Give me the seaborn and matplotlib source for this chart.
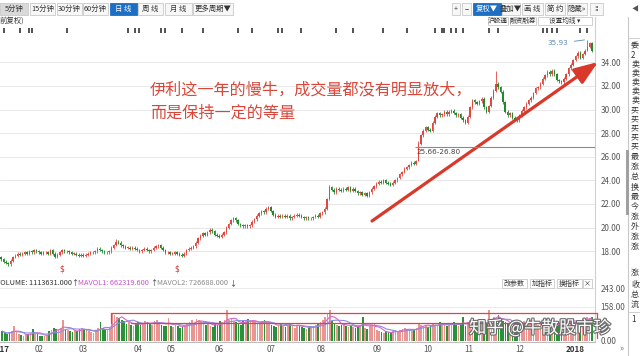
import matplotlib
matplotlib.use("Agg")
import matplotlib.pyplot as plt
import matplotlib.patheffects as pe
from matplotlib.patches import Rectangle
import numpy as np
import pandas as pd
import seaborn as sns

# ---------------- data ----------------
closes = [
    17.3, 17.1, 17.0, 16.9, 17.2, 17.5, 17.6, 17.8, 17.7, 17.8,
    17.9, 17.8, 18.0, 17.9, 18.1, 18.0, 17.9, 17.8, 17.9, 17.9,
    17.8, 18.1, 17.8, 17.5, 17.7, 17.9, 18.1, 18.0, 18.0, 17.9,
    17.8, 17.8, 17.7, 17.6, 17.7, 17.6, 17.7, 17.8, 17.9, 17.9,
    18.0, 18.2, 18.1, 18.0, 17.9, 17.9, 18.0, 18.3, 18.5, 18.8,
    18.7, 18.5, 18.4, 18.3, 18.3, 18.2, 18.3, 18.2, 18.1, 18.0,
    18.1, 18.2, 18.1, 18.0, 18.1, 18.3, 18.4, 18.5, 18.3, 18.1,
    17.9, 17.9, 17.8, 17.8, 17.9, 17.8, 17.7, 17.6, 17.8, 18.1,
    18.2, 18.3, 18.4, 18.7, 19.1, 19.3, 19.5, 19.4, 19.6, 19.8,
    19.7, 19.4, 19.3, 19.2, 19.4, 19.6, 20.0, 20.3, 20.6, 20.8,
    20.6, 20.3, 20.2, 20.1, 20.2, 20.1, 20.2, 20.5, 20.7, 21.0,
    21.2, 21.4, 21.3, 21.6, 21.7, 21.4, 21.1, 20.9, 21.0, 20.9,
    21.0, 20.9, 21.0, 20.8, 20.9, 21.0, 21.1, 21.0, 20.9, 20.8,
    20.9, 20.8, 20.8, 20.9, 21.0, 20.9, 21.2, 21.3, 21.6, 22.4,
    23.4, 23.2, 23.0, 23.3, 23.2, 23.1, 23.3, 23.2, 23.4, 23.1,
    23.3, 23.1, 22.9, 23.0, 22.8, 22.9, 22.7, 23.0, 23.3, 23.5,
    23.7, 23.9, 23.8, 24.0, 23.8, 23.7, 23.6, 23.8, 24.0, 24.2,
    24.5, 24.7, 25.0, 25.1, 25.3, 25.5, 25.4, 25.6, 27.1, 27.8,
    28.2, 28.5, 28.3, 28.2, 28.9, 29.4, 29.7, 29.5, 29.6, 29.8,
    29.6, 29.8, 29.9, 29.7, 29.5, 29.6, 29.3, 29.1, 28.9, 29.4,
    30.2, 30.8, 30.6, 30.5, 30.7, 30.9, 30.2, 29.8, 30.3, 31.0,
    31.6, 32.2, 31.9, 31.5, 30.6, 29.8, 29.5, 29.7, 29.3, 29.2,
    29.1, 29.5, 29.9, 30.2, 30.5, 30.8, 31.0, 31.4, 31.8, 31.9,
    32.2, 32.6, 32.9, 33.2, 33.0, 33.3, 33.0, 32.5, 32.4, 32.3,
    32.6, 33.0, 33.5, 33.8, 34.2, 34.5, 34.8, 34.4, 34.7, 35.0,
    35.3, 35.6, 35.0,
]
volumes = [
    45, 35, 30, 40, 45, 70, 40, 30, 28, 25,
    28, 30, 35, 55, 40, 30, 25, 22, 25, 28,
    45, 50, 60, 55, 50, 60, 95, 55, 50, 45,
    40, 50, 45, 55, 60, 55, 50, 45, 40, 38,
    50, 60, 85, 60, 55, 50, 60, 125, 120, 110,
    105, 95, 90, 80, 85, 75, 70, 80, 85, 75,
    80, 90, 85, 80, 75, 90, 95, 80, 75, 70,
    70, 105, 70, 65, 75, 70, 60, 65, 70, 80,
    85, 95, 80, 100, 95, 90, 85, 75, 80, 70,
    65, 80, 75, 90, 85, 95, 140, 95, 100, 90,
    85, 80, 75, 90, 95, 100, 95, 90, 85, 80,
    80, 90, 95, 85, 80, 75, 70, 65, 75, 80,
    70, 65, 75, 80, 70, 60, 75, 70, 65, 60,
    55, 60, 65, 70, 75, 80, 85, 95, 110, 125,
    140, 90, 80, 75, 70, 75, 80, 70, 65, 70,
    65, 60, 70, 75, 110, 60, 55, 70, 75, 80,
    50, 45, 40, 35, 45, 40, 35, 45, 50, 45,
    50, 55, 60, 55, 50, 45, 55, 60, 80, 75,
    70, 75, 65, 70, 80, 75, 70, 85, 80, 75,
    70, 75, 80, 85, 75, 70, 80, 110, 70, 85,
    95, 90, 85, 80, 75, 80, 85, 80, 140, 95,
    110, 100, 120, 95, 90, 85, 80, 75, 70, 65,
    75, 80, 85, 90, 85, 90, 95, 85, 80, 75,
    85, 90, 95, 85, 80, 75, 80, 70, 75, 80,
    85, 90, 100, 95, 90, 85, 95, 90, 100, 105,
    110, 105, 111,
]
first_open = 17.5
long_wicks = {49: (19.0, 18.4), 140: (23.6, 22.3), 178: (27.3, 25.6),
              211: (33.3, 31.5), 250: (35.93, 35.0)}
wick_ext = 0.12

month_pos = [-1.0, 15.7, 34.5, 58.0, 72.0, 92.5, 114.7, 136.4, 160.3, 181.7, 199.2, 221.3, 244.8]
month_labels = ["2017", "02", "03", "04", "05", "06", "07", "08", "09", "10", "11", "12", "2018"]
price_ticks = [18, 20, 22, 24, 26, 28, 30, 32, 34]
vol_ticks = [0, 158, 243]
event_days = [1, 8, 12, 13, 28, 54, 57, 59, 68, 70, 77, 86, 101, 107, 118, 120, 128,
              143, 150, 163, 173, 185, 188, 189, 192, 194, 197, 208, 212, 231, 233,
              235, 237, 247, 250]
dividend_days = [26, 75]
gap_low, gap_high, gap_start = 25.66, 26.80, 176.5
peak_day, peak_price = 250, 35.93
vol_now, mavol1_now, mavol2_now = 1113631.000, 662319.600, 726688.000

# ---------------- style ----------------
sns.set_theme(style="white")
plt.rcParams['font.family'] = ['Noto Sans CJK SC', 'DejaVu Sans']
plt.rcParams['axes.unicode_minus'] = False

W, H = 640, 356
fig = plt.figure(figsize=(6.4, 3.56), dpi=100)
fig.patch.set_facecolor('white')


def box(x0, y0, x1, y1):
    return [x0 / W, 1 - y1 / H, (x1 - x0) / W, (y1 - y0) / H]


def fx(x):
    return x / W


def fy(y):
    return 1 - y / H


n = len(closes)
df = pd.DataFrame({'day': np.arange(n), 'close': closes, 'volume': volumes})
df['open'] = [first_open] + closes[:-1]
df['up'] = df['close'] >= df['open']
df['top'] = df[['open', 'close']].max(axis=1)
df['bot'] = df[['open', 'close']].min(axis=1)
df['high'] = df['top'] + wick_ext
df['low'] = df['bot'] - wick_ext
for d, (h, l) in long_wicks.items():
    df.loc[d, 'high'] = h
    df.loc[d, 'low'] = l
df['mavol1'] = df['volume'].rolling(5, min_periods=1).mean()
df['mavol2'] = df['volume'].rolling(10, min_periods=1).mean()

red, green = '#e0473f', '#1f8b2c'
ccol = np.where(df['up'], red, green)
vcol = np.where(df['up'], '#e99692', '#2a9139')

ax = fig.add_axes(box(0, 17, 595, 277))
axv = fig.add_axes(box(0, 277, 595, 342))
xlim = (-0.5, 253.3)

# ---- price panel ----
for t in price_ticks:
    ax.axhline(t, color='#e8e8e8', lw=0.7, zorder=0)
ax.vlines(df['day'], df['low'], df['high'], colors=ccol, lw=0.6, zorder=2)
ax.bar(df['day'], (df['top'] - df['bot']).clip(lower=0.05), bottom=df['bot'],
       width=0.62, color=ccol, linewidth=0, zorder=3)
ax.set_xlim(*xlim)
ax.set_ylim(15.81, 37.84)
ax.yaxis.tick_right()
ax.set_yticks(price_ticks)
ax.set_yticklabels([f"{t:.2f}" for t in price_ticks])
ax.tick_params(axis='y', length=0, pad=4, labelsize=5.8, labelcolor='#555')
ax.tick_params(axis='x', bottom=False, labelbottom=False)
for s in ['top', 'left']:
    ax.spines[s].set_visible(False)
ax.spines['right'].set_color('#d0d0d0')
ax.spines['right'].set_linewidth(0.8)
ax.spines['bottom'].set_color('#c4c4c4')
ax.spines['bottom'].set_linewidth(0.8)

# event markers on top, dividend markers at bottom
ax.vlines(event_days, 0.938, 0.958, transform=ax.get_xaxis_transform(),
          color='#222', lw=1.1, zorder=4)
for d in dividend_days:
    ax.text(d, 0.03, "$", transform=ax.get_xaxis_transform(), ha='center',
            va='center', fontsize=5.5, color='#d03030', family='DejaVu Sans')

# gap line and label
ax.hlines(gap_high, gap_start, xlim[1], color='#8a8a8a', lw=0.8, zorder=4)
ax.text(gap_start + 0.5, gap_high - 0.15, f"{gap_low:.2f}-{gap_high:.2f}",
        ha='left', va='top', fontsize=5.2, color='#444', family='DejaVu Sans')

# peak label
ax.annotate(f"{peak_price:.2f}", xy=(peak_day, peak_price), xytext=(peak_day - 12.5, 35.6),
            ha='center', va='center', fontsize=5.2, color='#5b8ab5', family='DejaVu Sans',
            arrowprops=dict(arrowstyle='-', color='#5b8ab5', lw=0.6))

# ---- volume panel ----
for t in vol_ticks[1:]:
    axv.axhline(t, color='#ebebeb', lw=0.7, zorder=0)
axv.bar(df['day'], df['volume'], width=0.72, color=vcol, linewidth=0, zorder=2)
sns.lineplot(data=df, x='day', y='mavol1', ax=axv, color='#d866cc', lw=0.8, zorder=3)
sns.lineplot(data=df, x='day', y='mavol2', ax=axv, color='#8c8ce0', lw=0.8, zorder=3)
axv.set_xlim(*xlim)
axv.set_ylim(-4.6, 293.6)
axv.set_xlabel('')
axv.set_ylabel('')
axv.yaxis.tick_right()
axv.set_yticks(vol_ticks)
axv.set_yticklabels([f"{t:.2f}" for t in vol_ticks])
axv.tick_params(axis='y', length=0, pad=4, labelsize=5.8, labelcolor='#555')
axv.set_xticks(month_pos)
axv.set_xticklabels(month_labels)
axv.tick_params(axis='x', length=0, pad=2, labelsize=5.8, labelcolor='#555')
for lab in axv.get_xticklabels():
    if lab.get_text() in ("2017", "2018"):
        lab.set_fontweight('bold')
        lab.set_color('#333')
for s in ['top', 'left']:
    axv.spines[s].set_visible(False)
axv.spines['right'].set_color('#d0d0d0')
axv.spines['right'].set_linewidth(0.8)
axv.spines['bottom'].set_color('#bdbdbd')
axv.spines['bottom'].set_linewidth(0.8)

# hand-drawn red box on volume
bx0, bx1, bx2 = 46.4, 54.9, 254.2
by0, by1, by2 = 128, 83, 14
axv.plot([bx0, bx2], [by0, by0], color='#e04545', lw=0.9, clip_on=False, zorder=4)
axv.plot([bx0, bx0], [by0, by1], color='#e04545', lw=0.9, clip_on=False, zorder=4)
axv.plot([bx1, bx2], [by1, by1], color='#e04545', lw=0.9, clip_on=False, zorder=4)
axv.plot([bx2, bx2], [by0, by2], color='#e04545', lw=0.9, clip_on=False, zorder=4)

# volume header
fs_h = 5.3
fig.text(fx(-4), fy(283), f"VOLUME: {vol_now:.3f}", fontsize=fs_h, color='#333', va='center')
fig.text(fx(71), fy(283), "↑", fontsize=fs_h, color='#333', va='center')
fig.text(fx(78), fy(283), f"MAVOL1: {mavol1_now:.3f}", fontsize=fs_h, color='#c94fc9', va='center')
fig.text(fx(150), fy(283), "↑", fontsize=fs_h, color='#333', va='center')
fig.text(fx(157), fy(283), f"MAVOL2: {mavol2_now:.3f}", fontsize=fs_h, color='#8a8a8a', va='center')
fig.text(fx(229), fy(283), "↓", fontsize=fs_h, color='#333', va='center')


def button(x0, x1, y0, y1, label, fc='#f7f7f7', tc='#333', ec='#c9c9c9', fs=5.3):
    fig.patches.append(Rectangle((fx(x0), fy(y1)), (x1 - x0) / W, (y1 - y0) / H,
                                 transform=fig.transFigure, facecolor=fc, edgecolor=ec,
                                 lw=0.6, zorder=5))
    fig.text(fx((x0 + x1) / 2), fy((y0 + y1) / 2), label, ha='center', va='center',
             fontsize=fs, color=tc, zorder=6)


# volume panel buttons
for lbl, a, b in [("改参数", 502, 527), ("加指标", 530, 554), ("换指标", 557, 582), ("×", 583, 592)]:
    button(a, b, 279, 288, lbl, fc='white', fs=5.0)

# toolbar
blue = '#1d6fc4'
for lbl, a, b, sel in [("5分钟", 0, 28, 'g'), ("15分钟", 30, 55, ''), ("30分钟", 57, 82, ''),
                       ("60分钟", 83, 108, ''), ("日 线", 110, 137, 'b'), ("周 线", 138, 163, ''),
                       ("月 线", 165, 192, ''), ("更多周期▼", 193, 233, '')]:
    if sel == 'b':
        button(a, b, 3, 15, lbl, fc=blue, tc='white', ec=blue)
    elif sel == 'g':
        button(a, b, 3, 15, lbl, fc='#d9d9d9')
    else:
        button(a, b, 3, 15, lbl)
for lbl, a, b, sel in [("+", 452, 460, ''), ("−", 462, 471, ''), ("复权▼", 473, 501, 'b'),
                       ("叠加▼", 502, 520, ''), ("画 线", 522, 543, ''), ("简 约", 545, 565, ''),
                       ("隐藏»", 567, 587, ''), ("⁞⁞", 590, 603, '')]:
    if sel == 'b':
        button(a, b, 3, 15, lbl, fc=blue, tc='white', ec=blue)
    else:
        button(a, b, 3, 15, lbl)
for lbl, a, b in [("沪股通", 488, 508), ("融资融券", 510, 536), ("设置均线 ▾", 538, 592)]:
    button(a, b, 17, 25, lbl, fc='white', fs=4.8)
fig.text(fx(0), fy(21), "前复权)", fontsize=5.3, color='#333', va='center')
fig.text(fx(632), fy(9), "◀", fontsize=5, color='#555', va='center')

# right info panel (cut off)
fig.add_artist(plt.Line2D([fx(628), fx(628)], [fy(17), fy(356)], color='#c8c8c8', lw=0.8))
fig.add_artist(plt.Line2D([fx(628), fx(640)], [fy(38), fy(38)], color='#c8c8c8', lw=0.6))
fig.add_artist(plt.Line2D([fx(628), fx(640)], [fy(312), fy(312)], color='#c8c8c8', lw=0.6))
fig.patches.append(Rectangle((fx(625.5), fy(215)), 3 / W, 65 / H, transform=fig.transFigure,
                             facecolor='#a0a0a0', edgecolor='none', zorder=5))
right_chars = [("委", 45), ("2", 55), ("卖", 64), ("卖", 73), ("卖", 82), ("卖", 91), ("卖", 100),
               ("买", 110), ("买", 119), ("买", 128), ("买", 137), ("买", 146), ("最", 157),
               ("涨", 167), ("总", 177), ("换", 187), ("最", 197), ("今", 207), ("涨", 217),
               ("外", 227), ("涨", 237), ("涨", 247), ("涨", 273), ("收", 284), ("总", 294),
               ("流", 304), ("1", 319)]
for ch, yy in right_chars:
    fig.text(fx(631), fy(yy), ch, fontsize=5.8, color='#333', va='center')
fig.text(fx(619), fy(348), "»", fontsize=6, color='#777', va='center')

# annotation text & arrow
ann_red = '#d9473b'
fig.text(fx(150), fy(90), "伊利这一年的慢牛，成交量都没有明显放大，", fontsize=11.6,
         color=ann_red, va='center')
fig.text(fx(150), fy(113), "而是保持一定的等量", fontsize=11.6, color=ann_red, va='center')
ax.annotate('', xy=(598, H - 62), xytext=(372, H - 221), xycoords='figure pixels',
            textcoords='figure pixels', annotation_clip=False,
            arrowprops=dict(arrowstyle='-|>,head_length=1.2,head_width=0.45',
                            color='#d8392b', lw=2.3, shrinkA=0, shrinkB=0))

# watermark
fig.text(fx(469), fy(328), "知乎 @牛散股市珍", fontsize=12.5, color='white', va='center',
         zorder=10, path_effects=[pe.withStroke(linewidth=1.6, foreground='#6a6a6a')])

fig.savefig('out.png', dpi=100)
